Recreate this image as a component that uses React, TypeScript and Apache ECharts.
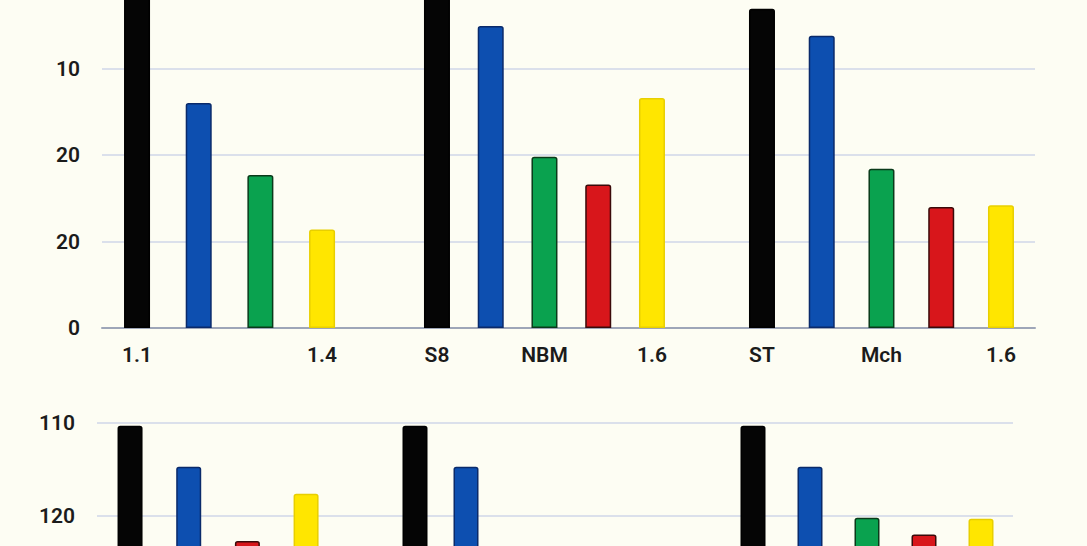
import React, { useEffect, useRef } from "react";
import * as echarts from "echarts";

// ---- data ----
// top panel
const topYTicks = [0, 10, 20, 30];
const topYTickLabels = ["0", "20", "20", "10"];

const topG1Labels = ["1.1", "", "", "1.4"];
const topG1Kinds = ["Black", "Blue", "Green", "Yellow"];
const topG1Values = [39, 26.0, 17.7, 11.4];

const topG2Labels = ["S8", "", "NBM", "", "1.6"];
const topG2Kinds = ["Black", "Blue", "Green", "Red", "Yellow"];
const topG2Values = [39, 34.9, 19.8, 16.6, 26.6];

const topG3Labels = ["ST", "", "Mch", "", "1.6"];
const topG3Kinds = ["Black", "Blue", "Green", "Red", "Yellow"];
const topG3Values = [36.9, 33.8, 18.4, 14.0, 14.2];

// bottom panel
const botYTicks = [30, 40];
const botYTickLabels = ["120", "110"];

const botG1Labels = ["", "", "", ""];
const botG1Kinds = ["Black", "Blue", "Red", "Yellow"];
const botG1Values = [39.7, 35.3, 27.3, 32.4];

const botG2Labels = ["", "", "", "", ""];
const botG2Kinds = ["Black", "Blue", "Green", "Red", "Yellow"];
const botG2Values = [39.7, 35.3, 25, 23, 26];

const botG3Labels = ["", "", "", "", ""];
const botG3Kinds = ["Black", "Blue", "Green", "Red", "Yellow"];
const botG3Values = [39.7, 35.3, 29.8, 28.0, 29.7];

// ---- styles ----
const kindColors: Record<string, string> = {
  Black: "#050505",
  Blue: "#0d4fb0",
  Green: "#0aa24f",
  Red: "#d8161b",
  Yellow: "#ffe600",
};
const kindBorders: Record<string, string> = {
  Black: "#000000",
  Blue: "#0a2a6a",
  Green: "#0a3a1a",
  Red: "#3a0a0a",
  Yellow: "#e8cf00",
};

const FONT = "Roboto, 'Liberation Sans', sans-serif";
const BG = "#fdfdf3";
const SHIFT = 40; // chart canvas starts 40px above the viewport
const CANVAS_H = 900;

export default function App() {
  const ref = useRef<HTMLDivElement>(null);

  useEffect(() => {
    if (!ref.current) return;
    const chart = echarts.init(ref.current, undefined, { renderer: "svg" });

    const grids: any[] = [];
    const xAxes: any[] = [];
    const yAxes: any[] = [];
    const series: any[] = [];

    const labelMap = (ticks: number[], labels: string[]) => (v: number) => {
      const i = ticks.indexOf(v);
      return i >= 0 ? labels[i] : "";
    };

    const addFrame = (
      rect: { left: number; width: number; top: number; height: number },
      min: number,
      max: number,
      ticks: number[],
      labels: string[],
      showAxisLine: boolean
    ) => {
      const idx = grids.length;
      grids.push({ ...rect, containLabel: false });
      xAxes.push({
        gridIndex: idx,
        type: "category",
        data: [""],
        axisTick: { show: false },
        axisLabel: { show: false },
        axisLine: { show: showAxisLine, lineStyle: { color: "#9ea6b8", width: 2 } },
        splitLine: { show: false },
      });
      yAxes.push({
        gridIndex: idx,
        type: "value",
        min,
        max,
        interval: 10,
        axisLine: { show: false },
        axisTick: { show: false },
        splitLine: { show: true, lineStyle: { color: "#cfd6e8", width: 1.5 } },
        axisLabel: {
          show: true,
          margin: 22,
          fontSize: 21,
          fontWeight: 600,
          fontFamily: FONT,
          color: "#1b1b1b",
          formatter: labelMap(ticks, labels),
        },
      });
    };

    const addGroup = (
      rect: { left: number; width: number; top: number; height: number },
      min: number,
      max: number,
      labels: string[],
      kinds: string[],
      values: number[],
      barWidth: number
    ) => {
      const idx = grids.length;
      grids.push({ ...rect, containLabel: false });
      xAxes.push({
        gridIndex: idx,
        type: "category",
        data: labels,
        axisTick: { show: false },
        axisLine: { show: false },
        splitLine: { show: false },
        axisLabel: {
          show: true,
          interval: 0,
          margin: 16,
          fontSize: 21,
          fontWeight: 600,
          fontFamily: FONT,
          color: "#1b1b1b",
        },
      });
      yAxes.push({
        gridIndex: idx,
        type: "value",
        min,
        max,
        interval: 10,
        show: false,
        splitLine: { show: false },
      });
      series.push({
        type: "bar",
        xAxisIndex: idx,
        yAxisIndex: idx,
        barWidth,
        data: values.map((v, i) => ({
          value: v,
          name: kinds[i],
          itemStyle: {
            color: kindColors[kinds[i]],
            borderColor: kindBorders[kinds[i]],
            borderWidth: 1.5,
            borderRadius: [2, 2, 0, 0],
          },
        })),
      });
    };

    // top panel: value 0 at screen y=328, 10 units = 86.5px
    const topRect = { top: SHIFT - 18, height: 346 };
    addFrame({ left: 102, width: 933, ...topRect }, 0, 40, topYTicks, topYTickLabels, true);
    addGroup({ left: 106.2, width: 246.7, ...topRect }, 0, 40, topG1Labels, topG1Kinds, topG1Values, 26);
    addGroup({ left: 410.1, width: 268.75, ...topRect }, 0, 40, topG2Labels, topG2Kinds, topG2Values, 26);
    addGroup({ left: 732.1, width: 298.75, ...topRect }, 0, 40, topG3Labels, topG3Kinds, topG3Values, 26);

    // bottom panel: value 40 at screen y=423, 10 units = 93px
    const botRect = { top: SHIFT + 423, height: 186 };
    addFrame({ left: 97, width: 916, ...botRect }, 20, 40, botYTicks, botYTickLabels, false);
    addGroup({ left: 100.7, width: 234.7, ...botRect }, 20, 40, botG1Labels, botG1Kinds, botG1Values, 25);
    addGroup({ left: 389.5, width: 255, ...botRect }, 20, 40, botG2Labels, botG2Kinds, botG2Values, 25);
    addGroup({ left: 724.5, width: 285, ...botRect }, 20, 40, botG3Labels, botG3Kinds, botG3Values, 25);

    chart.setOption({
      animation: false,
      backgroundColor: BG,
      grid: grids,
      xAxis: xAxes,
      yAxis: yAxes,
      series,
    });

    return () => chart.dispose();
  }, []);

  return (
    <div
      ref={ref}
      style={{
        position: "fixed",
        left: 0,
        top: -SHIFT,
        width: 1087,
        height: CANVAS_H,
        background: BG,
      }}
    />
  );
}
